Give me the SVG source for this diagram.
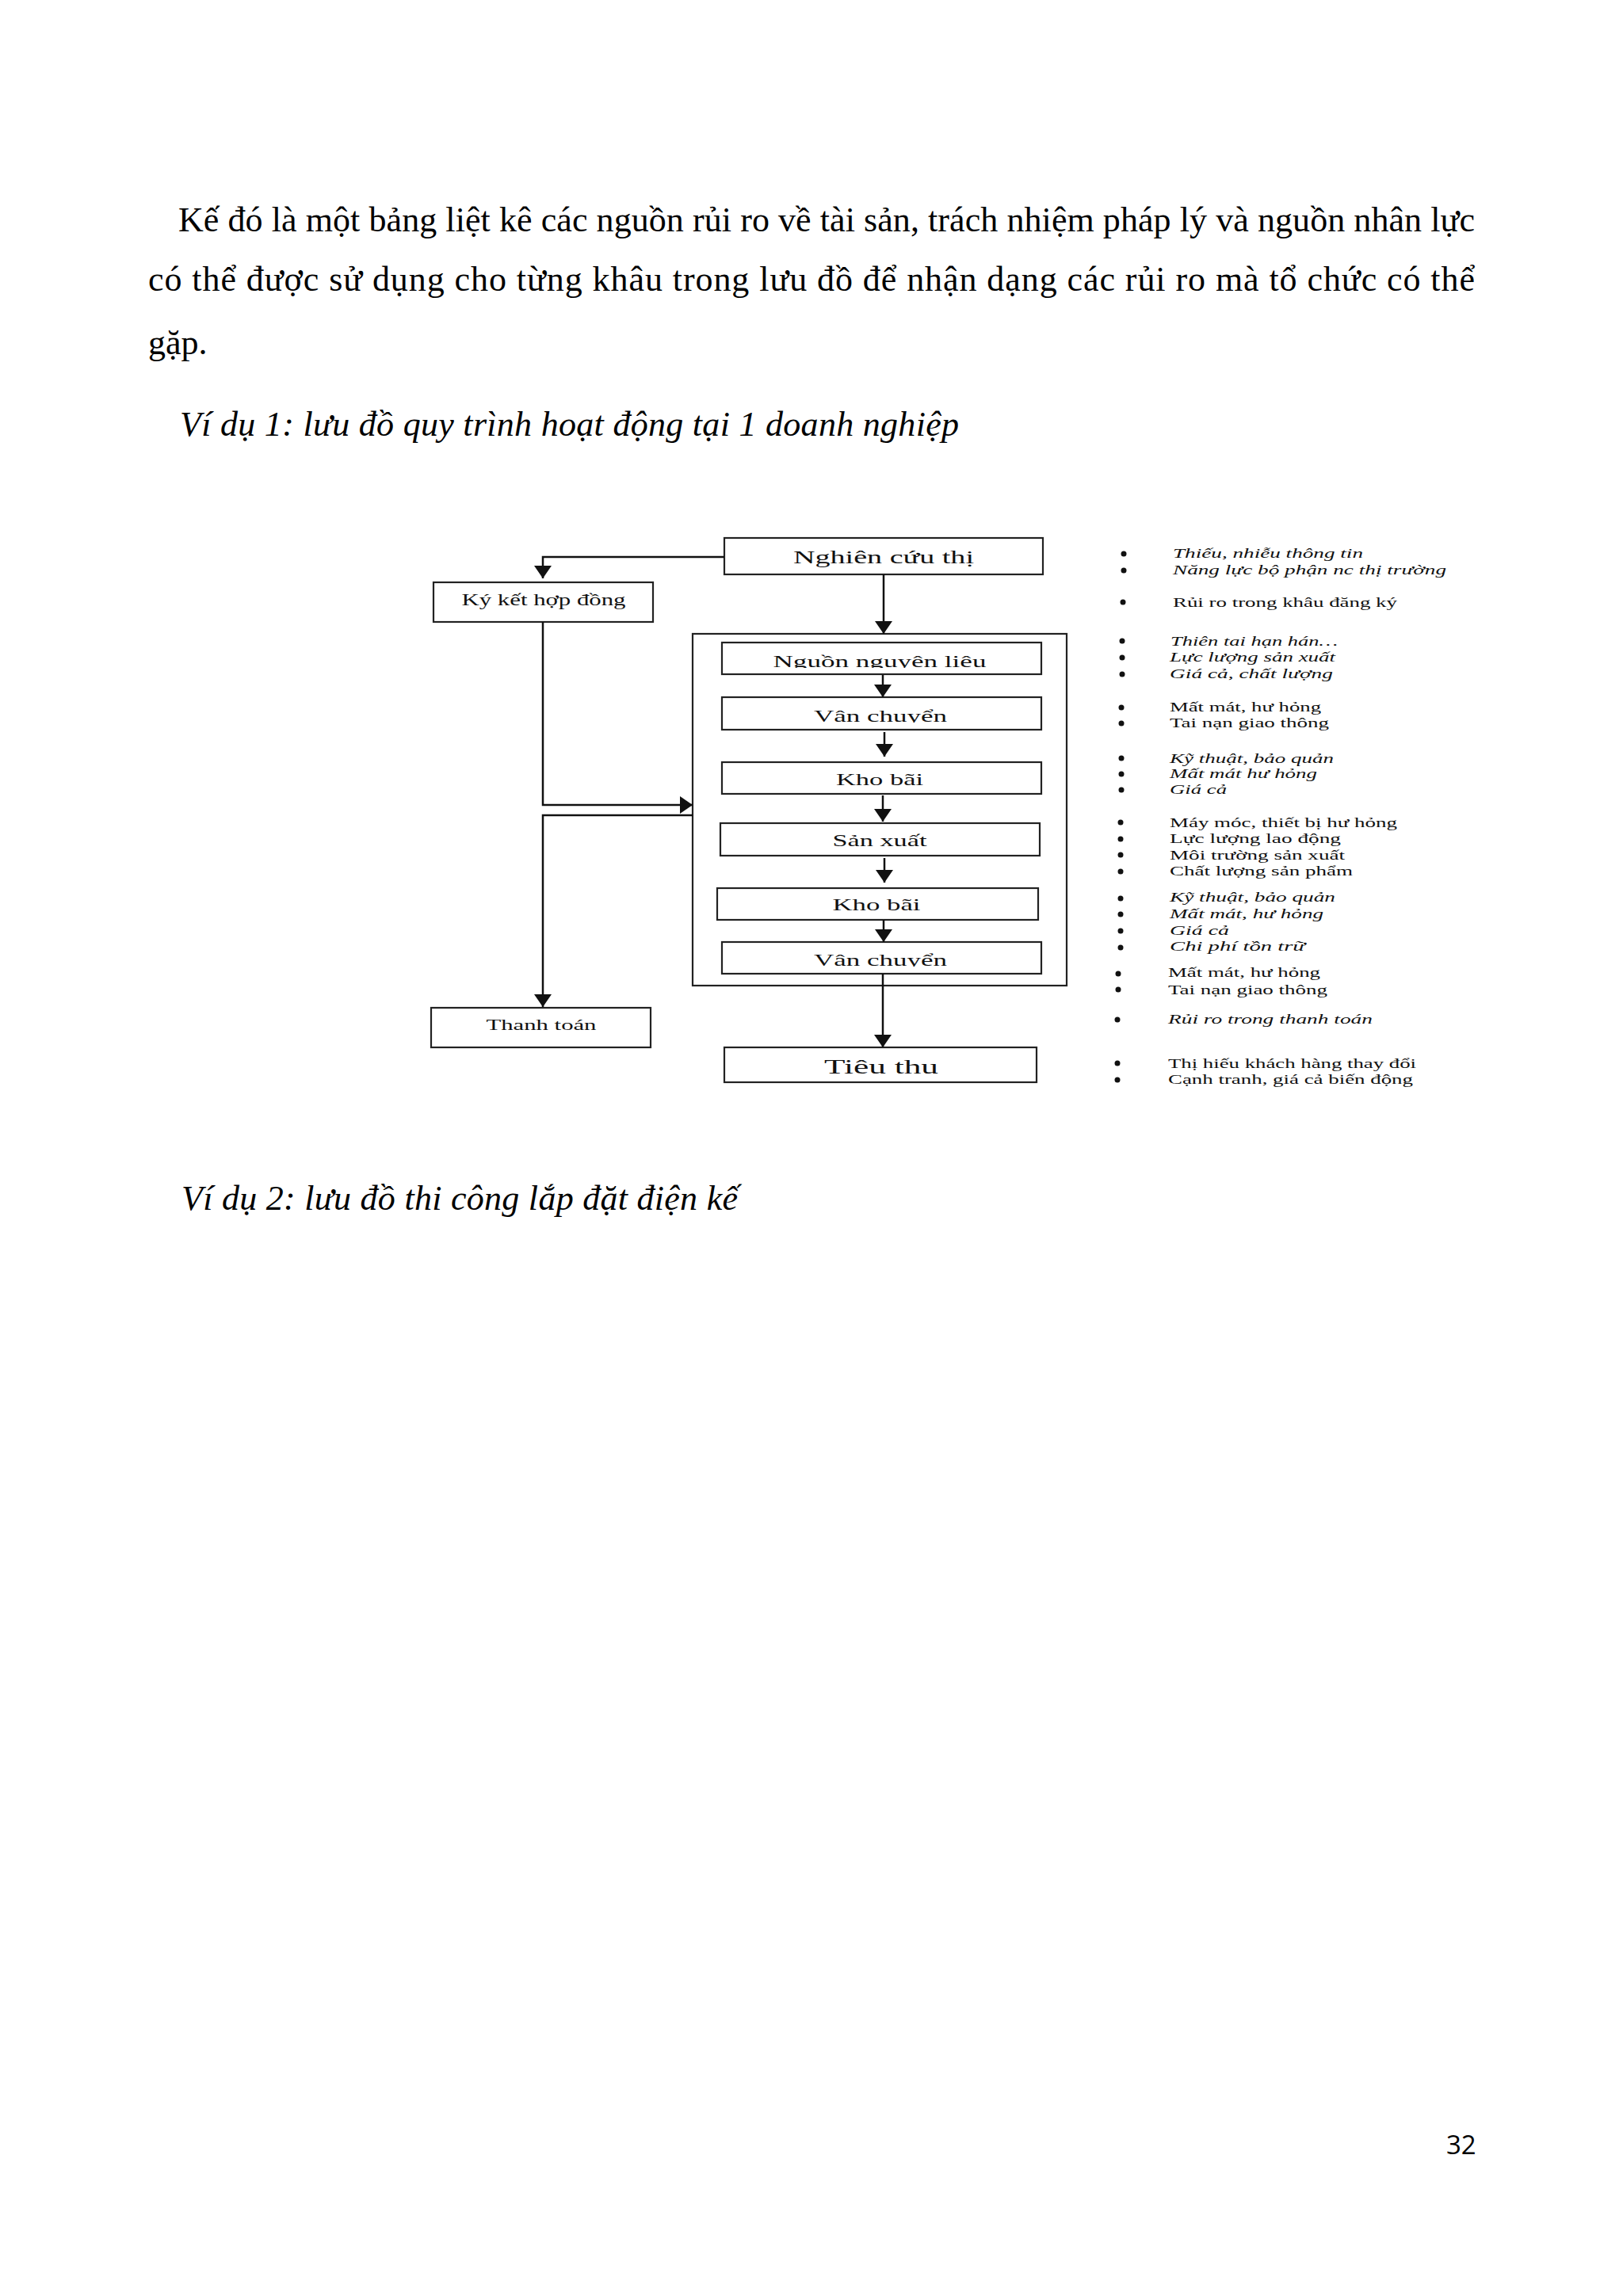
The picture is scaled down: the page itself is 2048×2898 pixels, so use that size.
<svg xmlns="http://www.w3.org/2000/svg" width="2048" height="2898" viewBox="0 0 2048 2898">
<style>
.body{font-family:"Liberation Serif","Times New Roman",serif;font-size:44px;fill:#000}
.cap{font-family:"Liberation Serif","Times New Roman",serif;font-size:44px;font-style:italic;fill:#000}
.box{fill:#fff;stroke:#222;stroke-width:2.2}
.cont{fill:none;stroke:#222;stroke-width:2.2}
.bt{font-family:"Liberation Serif","Times New Roman",serif;fill:#111;text-anchor:middle}
.rt{font-family:"Liberation Serif","Times New Roman",serif;font-size:17px;fill:#111}
.it{font-style:italic}
.con{fill:none;stroke:#111;stroke-width:2.5}
.pg{font-family:"Open Sans","Liberation Sans",sans-serif;font-size:33px;fill:#000}
</style>
<defs>
<marker id="ah" viewBox="0 0 16 22" refX="16" refY="11" markerWidth="16" markerHeight="22" orient="auto" markerUnits="userSpaceOnUse">
<path d="M0,0 L16,11 L0,22 z" fill="#111"/>
</marker>
<clipPath id="c1"><rect x="900" y="800" width="420" height="43"/></clipPath>
<clipPath id="c2"><rect x="900" y="870" width="420" height="42"/></clipPath>
<clipPath id="c3"><rect x="900" y="1180" width="420" height="40"/></clipPath>
</defs>
<rect x="0" y="0" width="2048" height="2898" fill="#fff"/>

<g id="text-body">
<text class="body" x="225" y="292" textLength="1636" lengthAdjust="spacing">Kế đó là một bảng liệt kê các nguồn rủi ro về tài sản, trách nhiệm pháp lý và nguồn nhân lực</text>
<text class="body" x="187" y="367" textLength="1674" lengthAdjust="spacing">có thể được sử dụng cho từng khâu trong lưu đồ để nhận dạng các rủi ro mà tổ chức có thể</text>
<text class="body" x="187" y="447">gặp.</text>
<text class="cap" x="227" y="550" textLength="983" lengthAdjust="spacing">Ví dụ 1: lưu đồ quy trình hoạt động tại 1 doanh nghiệp</text>
<text class="cap" x="229" y="1527" textLength="702" lengthAdjust="spacing">Ví dụ 2: lưu đồ thi công lắp đặt điện kế</text>
<text class="pg" x="1825" y="2719">32</text>
</g>

<g id="container"><rect class="cont" x="874" y="800" width="472" height="444"/></g>

<g id="n-nghiencuu"><rect class="box" x="914" y="679" width="402" height="46"/>
<text class="bt" x="1115" y="711" font-size="24" textLength="228" lengthAdjust="spacingAndGlyphs">Nghiên cứu thị</text></g>

<g id="n-kyket"><rect class="box" x="547" y="735" width="277" height="50"/>
<text class="bt" x="686" y="764" font-size="20" textLength="207" lengthAdjust="spacingAndGlyphs">Ký kết hợp đồng</text></g>

<g id="n-nguon"><rect class="box" x="911" y="811" width="403" height="40"/>
<text class="bt" x="1110" y="842" font-size="21" textLength="269" lengthAdjust="spacingAndGlyphs" clip-path="url(#c1)">Nguồn nguyên liêu</text></g>

<g id="n-vanchuyen1"><rect class="box" x="911" y="880" width="403" height="41"/>
<text class="bt" x="1111" y="911" font-size="21" textLength="168" lengthAdjust="spacingAndGlyphs" clip-path="url(#c2)">Vân chuyển</text></g>

<g id="n-khobai1"><rect class="box" x="911" y="962" width="403" height="40"/>
<text class="bt" x="1110" y="991" font-size="21" textLength="110" lengthAdjust="spacingAndGlyphs">Kho bãi</text></g>

<g id="n-sanxuat"><rect class="box" x="909" y="1039" width="403" height="41"/>
<text class="bt" x="1110" y="1068" font-size="21" textLength="119" lengthAdjust="spacingAndGlyphs">Sản xuất</text></g>

<g id="n-khobai2"><rect class="box" x="905" y="1121" width="405" height="40"/>
<text class="bt" x="1106" y="1149" font-size="21" textLength="111" lengthAdjust="spacingAndGlyphs">Kho bãi</text></g>

<g id="n-vanchuyen2"><rect class="box" x="911" y="1189" width="403" height="40"/>
<text class="bt" x="1111" y="1219" font-size="21" textLength="168" lengthAdjust="spacingAndGlyphs" clip-path="url(#c3)">Vân chuyển</text></g>

<g id="n-tieuthu"><rect class="box" x="914" y="1322" width="394" height="44"/>
<text class="bt" x="1112" y="1355" font-size="25" textLength="144" lengthAdjust="spacingAndGlyphs">Tiêu thu</text></g>

<g id="n-thanhtoan"><rect class="box" x="544" y="1272" width="277" height="50"/>
<text class="bt" x="683" y="1300" font-size="19" textLength="139" lengthAdjust="spacingAndGlyphs">Thanh toán</text></g>

<g id="connectors">
<path class="con" d="M914,703 H685 V730" marker-end="url(#ah)"/>
<path class="con" d="M1115,725 V800" marker-end="url(#ah)"/>
<path class="con" d="M685,785 V1016 H874" marker-end="url(#ah)"/>
<path class="con" d="M874,1029 H685 V1271" marker-end="url(#ah)"/>
<path class="con" d="M1114,852 V880" marker-end="url(#ah)"/>
<path class="con" d="M1116,924 V955" marker-end="url(#ah)"/>
<path class="con" d="M1114,1004 V1037" marker-end="url(#ah)"/>
<path class="con" d="M1116,1083 V1114" marker-end="url(#ah)"/>
<path class="con" d="M1115,1161 V1189" marker-end="url(#ah)"/>
<path class="con" d="M1114,1229 V1322" marker-end="url(#ah)"/>
</g>

<g id="risks" fill="#111">
<circle cx="1418" cy="699" r="3.5"/><text class="rt it" x="1480" y="704" textLength="240" lengthAdjust="spacingAndGlyphs">Thiếu, nhiễu thông tin</text>
<circle cx="1418" cy="720" r="3.5"/><text class="rt it" x="1480" y="725" textLength="345" lengthAdjust="spacingAndGlyphs">Năng lực bộ phận nc thị trường</text>
<circle cx="1417" cy="760" r="3.5"/><text class="rt" x="1480" y="766" textLength="283" lengthAdjust="spacingAndGlyphs">Rủi ro trong khâu đăng ký</text>
<circle cx="1416" cy="809" r="3.5"/><text class="rt it" x="1477" y="815" textLength="211" lengthAdjust="spacingAndGlyphs">Thiên tai hạn hán…</text>
<circle cx="1416" cy="830" r="3.5"/><text class="rt it" x="1476" y="835" textLength="209" lengthAdjust="spacingAndGlyphs">Lực lượng sản xuất</text>
<circle cx="1416" cy="851" r="3.5"/><text class="rt it" x="1476" y="856" textLength="206" lengthAdjust="spacingAndGlyphs">Giá cả, chất lượng</text>
<circle cx="1415" cy="893" r="3.5"/><text class="rt" x="1476" y="898" textLength="191" lengthAdjust="spacingAndGlyphs">Mất mát, hư hỏng</text>
<circle cx="1415" cy="913" r="3.5"/><text class="rt" x="1476" y="918" textLength="201" lengthAdjust="spacingAndGlyphs">Tai nạn giao thông</text>
<circle cx="1415" cy="957" r="3.5"/><text class="rt it" x="1476" y="963" textLength="207" lengthAdjust="spacingAndGlyphs">Kỹ thuật, bảo quản</text>
<circle cx="1415" cy="977" r="3.5"/><text class="rt it" x="1476" y="982" textLength="186" lengthAdjust="spacingAndGlyphs">Mất mát hư hỏng</text>
<circle cx="1415" cy="997" r="3.5"/><text class="rt it" x="1476" y="1002" textLength="72" lengthAdjust="spacingAndGlyphs">Giá cả</text>
<circle cx="1414" cy="1038" r="3.5"/><text class="rt" x="1476" y="1044" textLength="287" lengthAdjust="spacingAndGlyphs">Máy móc, thiết bị hư hỏng</text>
<circle cx="1414" cy="1059" r="3.5"/><text class="rt" x="1476" y="1064" textLength="216" lengthAdjust="spacingAndGlyphs">Lực lượng lao động</text>
<circle cx="1414" cy="1079" r="3.5"/><text class="rt" x="1476" y="1085" textLength="221" lengthAdjust="spacingAndGlyphs">Môi trường sản xuất</text>
<circle cx="1414" cy="1100" r="3.5"/><text class="rt" x="1476" y="1105" textLength="231" lengthAdjust="spacingAndGlyphs">Chất lượng sản phẩm</text>
<circle cx="1414" cy="1134" r="3.5"/><text class="rt it" x="1476" y="1138" textLength="209" lengthAdjust="spacingAndGlyphs">Kỹ thuật, bảo quản</text>
<circle cx="1414" cy="1154" r="3.5"/><text class="rt it" x="1476" y="1159" textLength="194" lengthAdjust="spacingAndGlyphs">Mất mát, hư hỏng</text>
<circle cx="1414" cy="1175" r="3.5"/><text class="rt it" x="1476" y="1180" textLength="75" lengthAdjust="spacingAndGlyphs">Giá cả</text>
<circle cx="1414" cy="1196" r="3.5"/><text class="rt it" x="1476" y="1200" textLength="171" lengthAdjust="spacingAndGlyphs">Chi phí tồn  trữ</text>
<circle cx="1411" cy="1229" r="3.5"/><text class="rt" x="1474" y="1233" textLength="192" lengthAdjust="spacingAndGlyphs">Mất mát, hư hỏng</text>
<circle cx="1411" cy="1249" r="3.5"/><text class="rt" x="1474" y="1255" textLength="201" lengthAdjust="spacingAndGlyphs">Tai nạn giao thông</text>
<circle cx="1410" cy="1287" r="3.5"/><text class="rt it" x="1474" y="1292" textLength="258" lengthAdjust="spacingAndGlyphs">Rủi ro trong thanh toán</text>
<circle cx="1410" cy="1342" r="3.5"/><text class="rt" x="1474" y="1348" textLength="313" lengthAdjust="spacingAndGlyphs">Thị hiếu khách hàng thay đổi</text>
<circle cx="1410" cy="1363" r="3.5"/><text class="rt" x="1474" y="1368" textLength="309" lengthAdjust="spacingAndGlyphs">Cạnh tranh, giá cả biến động</text>
</g>
</svg>
